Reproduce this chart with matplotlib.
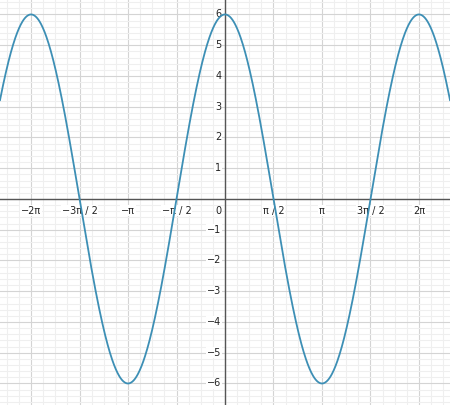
import matplotlib
matplotlib.use("Agg")
import matplotlib.pyplot as plt
import numpy as np

amplitude = 6
x_ticks = [-2, -1.5, -1, -0.5, 0.5, 1, 1.5, 2]  # multiples of pi
x_labels = ["\u22122\u03c0", "\u22123\u03c0 / 2", "\u2212\u03c0", "\u2212\u03c0 / 2",
            "\u03c0 / 2", "\u03c0", "3\u03c0 / 2", "2\u03c0"]
y_ticks = [-6, -5, -4, -3, -2, -1, 1, 2, 3, 4, 5, 6]

xmin, xmax = -2.32 * np.pi, 2.32 * np.pi
ymin, ymax = -6.7, 6.47

fig = plt.figure(figsize=(4.5, 4.05), dpi=100)
ax = fig.add_axes([0, 0, 1, 1])
ax.set_xlim(xmin, xmax)
ax.set_ylim(ymin, ymax)
for s in ax.spines.values():
    s.set_visible(False)
ax.set_xticks([])
ax.set_yticks([])

# grid
for k in np.arange(-20, 21):
    xv = k * np.pi / 8
    major = k % 4 == 0
    ax.axvline(xv, color="#d4d4d4" if major else "#efefef", lw=0.8, zorder=0)
for k in np.arange(-35, 36):
    yv = k * 0.2
    major = k % 5 == 0
    ax.axhline(yv, color="#d4d4d4" if major else "#efefef", lw=0.8, zorder=0)
ax.axhline(0, color="#555555", lw=1, zorder=1)
ax.axvline(0, color="#555555", lw=1, zorder=1)

x = np.linspace(xmin, xmax, 1000)
ax.plot(x, amplitude * np.cos(x), color="#3d8fb5", lw=1.3, zorder=3)

box = dict(facecolor="white", edgecolor="none", pad=0.5)
for t, lab in zip(x_ticks, x_labels):
    ax.text(t * np.pi, -0.22, lab, ha="center", va="top", fontsize=7,
            color="#222222", bbox=box, zorder=2)
for t in y_ticks:
    ax.text(-0.12, t, f"{t}".replace("-", "\u2212"), ha="right", va="center",
            fontsize=7, color="#222222", bbox=box, zorder=2)
ax.text(-0.12, -0.22, "0", ha="right", va="top", fontsize=7, color="#222222", zorder=2)

fig.savefig("out.png", dpi=100, facecolor="white")
